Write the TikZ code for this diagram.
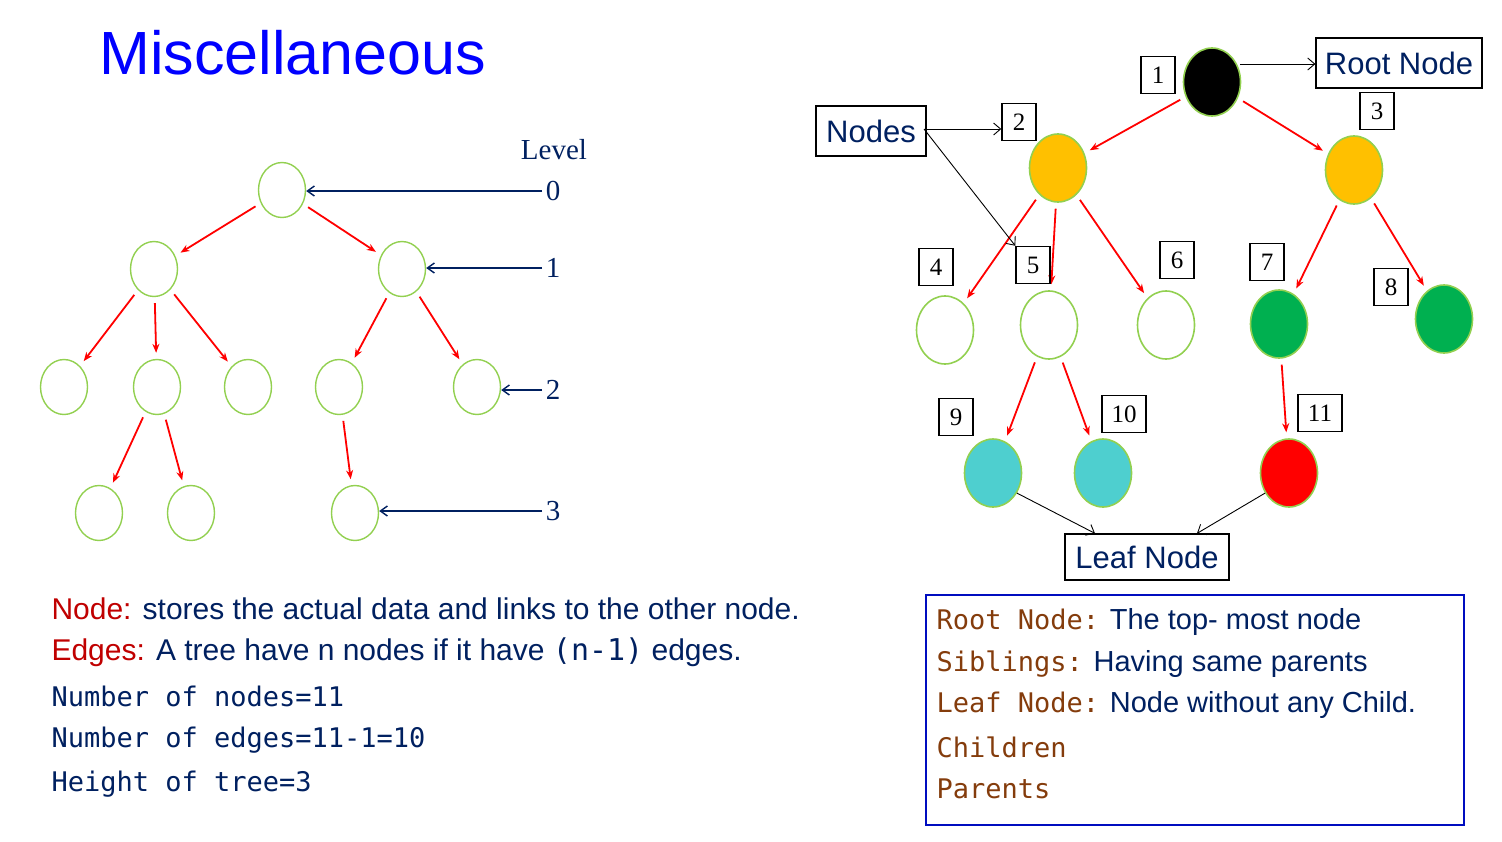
\documentclass[tikz,border=0pt]{standalone}
\usepackage{fontspec}
\setmainfont{Liberation Sans}
\newfontfamily\serifnum{Liberation Serif}
\newfontfamily\monof{DejaVu Sans Mono}
\usetikzlibrary{arrows.meta,shapes.geometric}
\definecolor{navy}{HTML}{002060}
\definecolor{lgreen}{HTML}{92D050}
\definecolor{orng}{HTML}{FFC000}
\definecolor{grn}{HTML}{00B050}
\definecolor{cyn}{HTML}{4ECFCF}
\definecolor{brn}{HTML}{843C0C}
\definecolor{dred}{HTML}{C00000}
\newcommand\mylbl[1]{{\monof\fontsize{27}{29}\selectfont\color{brn}#1}}
\begin{document}
\begin{tikzpicture}[x=1pt,y=-1pt,
  lt/.style={ellipse,draw=lgreen,line width=1.4pt,minimum width=47pt,minimum height=55pt,inner sep=0pt},
  rt/.style={ellipse,draw=lgreen,line width=1.6pt,minimum width=57pt,minimum height=68pt,inner sep=0pt},
  edge/.style={red,line width=1.8pt,-{Stealth[length=9pt,width=7pt]},shorten <=6pt,shorten >=6pt},
  lvl/.style={navy,line width=1.4pt,-{Straight Barb[length=7pt,width=10pt]}},
  num/.style={draw,line width=1.5pt,minimum width=34pt,minimum height=37pt,inner sep=0pt,font=\serifnum\fontsize{25}{27}\selectfont},
  lbl/.style={draw,line width=1.2pt,inner sep=5pt,text=navy,font=\fontsize{31}{33}\selectfont},
  thin/.style={line width=0.9pt,-{Straight Barb[length=7pt,width=12pt]}},
  lvt/.style={navy,font=\serifnum\fontsize{29}{31}\selectfont},
  txt/.style={anchor=west,text=navy,font=\fontsize{30}{32}\selectfont},
  rtxt/.style={anchor=west,text=navy,font=\fontsize{29}{31}\selectfont},
  mono/.style={anchor=west,text=navy,font=\monof\fontsize{27}{29}\selectfont}]
\useasboundingbox (0,0) rectangle (1502,841);
\node[anchor=west,text=blue,font=\fontsize{61}{64}\selectfont] (title) at (96,53) {Miscellaneous};
% left tree
\node[lt] (a0) at (282,190) {};
\node[lt] (a1) at (154,269) {};
\node[lt] (a2) at (402,269) {};
\node[lt] (b1) at (64,387) {};
\node[lt] (b2) at (157,387) {};
\node[lt] (b3) at (248,387) {};
\node[lt] (b4) at (339,387) {};
\node[lt] (b5) at (477,387) {};
\node[lt] (c1) at (99,513) {};
\node[lt] (c2) at (191,513) {};
\node[lt] (c3) at (355,513) {};
\foreach \s/\t in {a0/a1,a0/a2,a1/b1,a1/b2,a1/b3,a2/b4,a2/b5,b2/c1,b2/c2,b4/c3}
  \draw[edge] (\s) -- (\t);
\node[lvt] (lv) at (554,150) {Level};
\node[lvt] (l0) at (553,191) {0};
\node[lvt] (l1) at (553,268) {1};
\node[lvt] (l2) at (553,390) {2};
\node[lvt] (l3) at (553,511) {3};
\draw[lvl] (l0.west) -- (l0.west -| a0.east);
\draw[lvl] (l1.west) -- (l1.west -| a2.east);
\draw[lvl] (l2.west) -- (l2.west -| b5.east);
\draw[lvl] (l3.west) -- (l3.west -| c3.east);
% right tree
\node[rt,fill=black] (r1) at (1212,82) {};
\node[rt,fill=orng] (r2) at (1058,168) {};
\node[rt,fill=orng] (r3) at (1354,170) {};
\node[rt] (r4) at (945,330) {};
\node[rt] (r5) at (1049,325) {};
\node[rt] (r6) at (1166,325) {};
\node[rt,fill=grn] (r7) at (1279,324) {};
\node[rt,fill=grn] (r8) at (1444,319) {};
\node[rt,fill=cyn] (r9) at (993,473) {};
\node[rt,fill=cyn] (r10) at (1103,473) {};
\node[rt,fill=red] (r11) at (1289,473) {};
\foreach \s/\t in {r1/r2,r1/r3,r2/r4,r2/r5,r2/r6,r3/r7,r3/r8,r5/r9,r5/r10,r7/r11}
  \draw[edge] (\s) -- (\t);
\node[num] (n1) at (1158,75) {1};
\node[num] (n2) at (1019,122) {2};
\node[num] (n3) at (1377,111) {3};
\node[num] (n4) at (936,267) {4};
\node[num] (n5) at (1033,265) {5};
\node[num] (n6) at (1177,260) {6};
\node[num] (n7) at (1267,262) {7};
\node[num] (n8) at (1391,287) {8};
\node[num] (n9) at (956,417) {9};
\node[num,minimum width=44pt] (n10) at (1124,414) {10};
\node[num,minimum width=44pt] (n11) at (1320,413) {11};
\node[lbl,minimum width=166pt,minimum height=50pt] (root) at (1399,63) {Root Node};
\node[lbl,minimum width=110pt,minimum height=50pt] (nodes) at (871,131) {Nodes};
\node[lbl,minimum width=164pt,minimum height=46pt] (leaf) at (1147,557) {Leaf Node};
\coordinate (ns) at (924,129);
\coordinate (rs) at (1240,64);
\draw[thin] (rs) -- (rs -| root.west);
\draw[thin] (ns) -- (ns -| n2.west);
\draw[thin] (ns) -- (n5.north west);
\draw[thin] (r9.-40) -- ([xshift=-52pt]leaf.north);
\draw[thin] (r11.-140) -- ([xshift=50pt]leaf.north);
% bottom left text
\node[txt] (t1) at (48,609) {\textcolor{dred}{Node:} stores the actual data and links to the other node.};
\node[txt] (t2) at (48,652) {\textcolor{dred}{Edges:} A tree have n nodes if it have {\monof(n-1)} edges.};
\node[mono] (t3) at (48,696) {Number of nodes=11};
\node[mono] (t4) at (48,740) {Number of edges=11-1=10};
\node[mono] (t5) at (48,784) {Height of tree=3};
% right box
\draw[draw=blue!60!navy,line width=1.6pt] (926,595) rectangle (1464,825);
\node[rtxt] (d1) at (933,622) {\mylbl{Root Node:} The top- most node};
\node[rtxt] (d2) at (933,664) {\mylbl{Siblings:} Having same parents};
\node[rtxt] (d3) at (933,705) {\mylbl{Leaf Node:} Node without any Child.};
\node[mono,text=brn] (d4) at (933,747) {Children};
\node[mono,text=brn] (d5) at (933,789) {Parents};
\end{tikzpicture}
\end{document}
